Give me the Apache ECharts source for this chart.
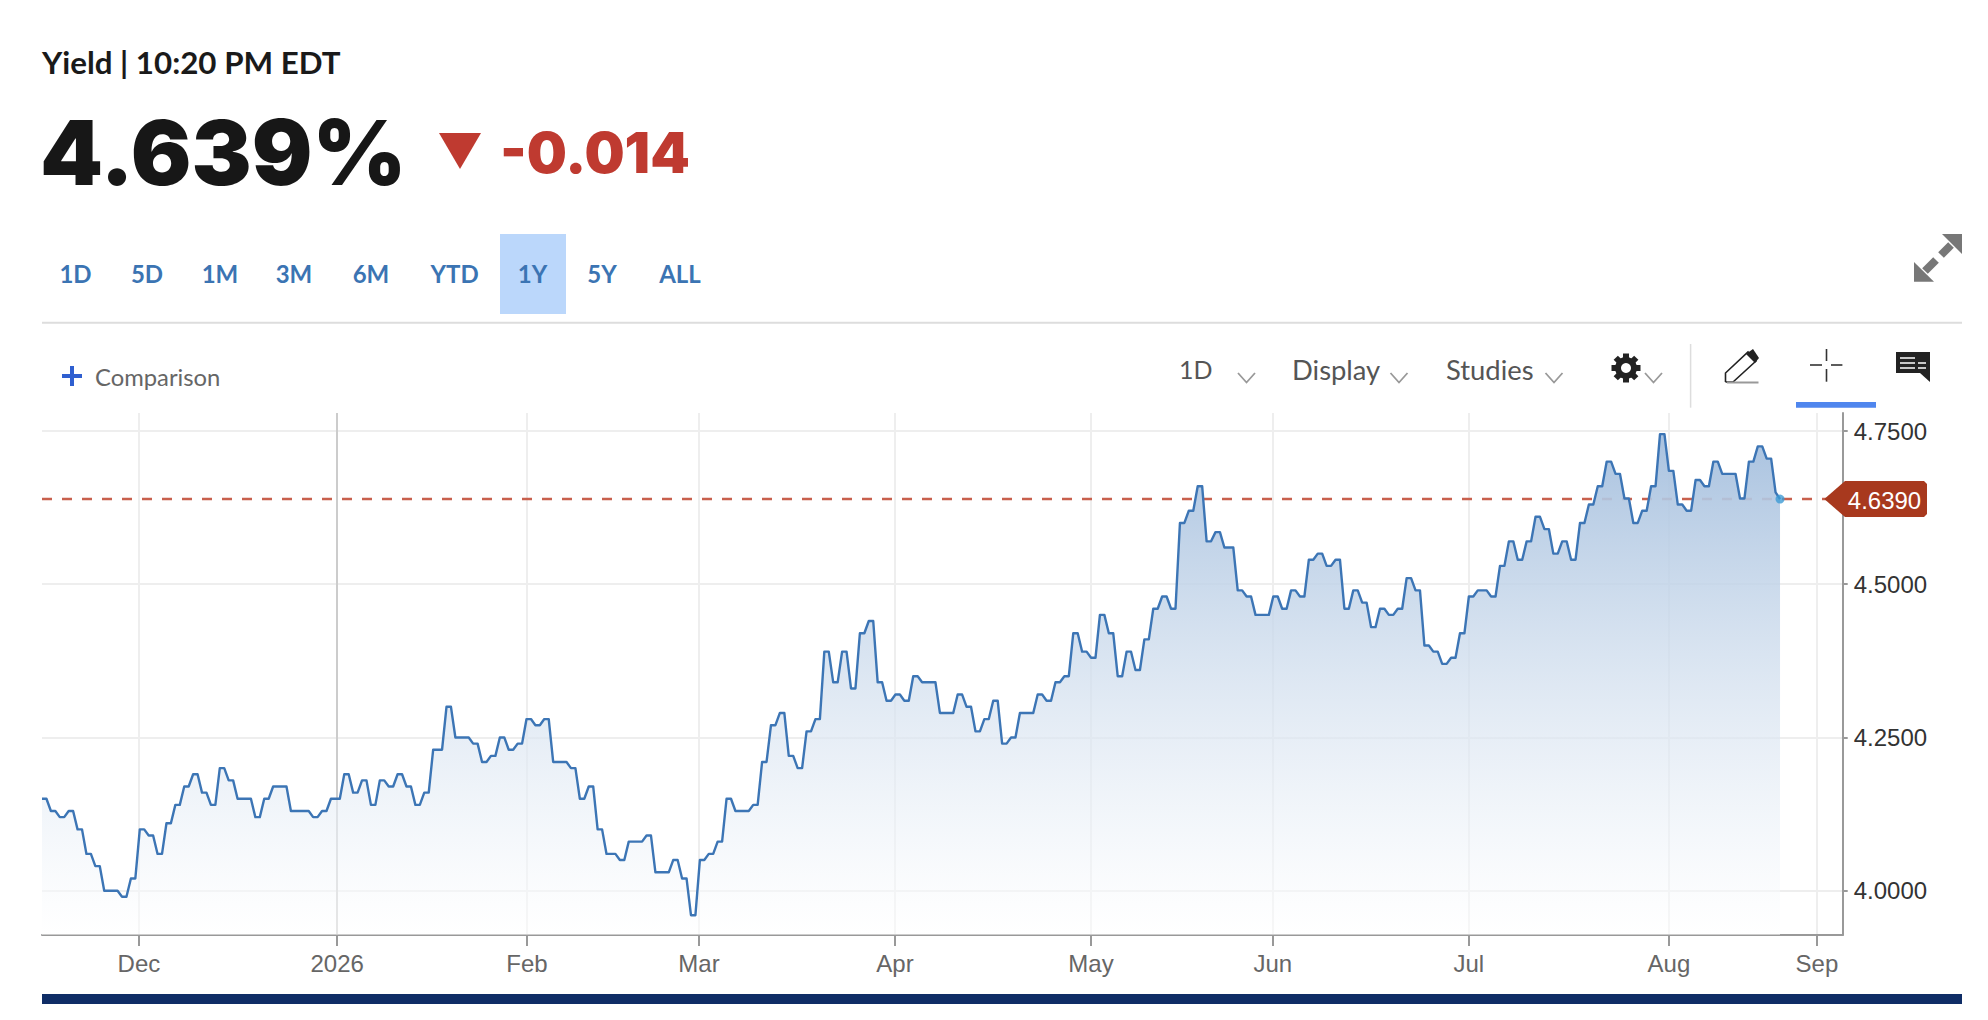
<!DOCTYPE html>
<html>
<head>
<meta charset="utf-8">
<title>Yield</title>
<style>html,body{margin:0;padding:0;background:#fff}#c{width:1988px;height:1020px}</style>
<script src="https://cdn.jsdelivr.net/npm/echarts@6/dist/echarts.min.js"></script>
</head>
<body>
<div id="c"></div>
<script>
// Half-day samples
const yieldsPartA = [4.15,4.15,4.13,4.13,4.12,4.12,4.13,4.13,4.10,4.10,4.06,4.06,4.04,4.04,4.00,4.00,4.00,4.00,3.99,3.99,4.02,4.02,4.10,4.10,4.09,4.09,4.06,4.06,4.11,4.11,4.14,4.14,4.17,4.17,4.19,4.19,4.16,4.16,4.14,4.14,4.20,4.20,4.18,4.18,4.15,4.15,4.15,4.15,4.12,4.12,4.15,4.15,4.17,4.17,4.17,4.17,4.13,4.13,4.13,4.13,4.13,4.12,4.12,4.13,4.13,4.15,4.15,4.15,4.19,4.19,4.16,4.16,4.18,4.18,4.14,4.14,4.18,4.18,4.17,4.17,4.19,4.19,4.17,4.17,4.14,4.14,4.16,4.16,4.23,4.23,4.23,4.30,4.30,4.25,4.25,4.25,4.25,4.24,4.24,4.21,4.21,4.22,4.22];
const yieldsPartB = [4.25,4.25,4.23,4.23,4.24,4.24,4.28,4.28,4.27,4.27,4.28,4.28,4.21,4.21,4.21,4.21,4.20,4.20,4.15,4.15,4.17,4.17,4.10,4.10,4.06,4.06,4.06,4.05,4.05,4.08,4.08,4.08,4.08,4.09,4.09,4.03,4.03,4.03,4.03,4.05,4.05,4.02,4.02,3.96,3.96,4.05,4.05,4.06,4.06,4.08,4.08,4.15,4.15,4.13,4.13,4.13,4.13,4.14,4.14,4.21,4.21,4.27,4.27,4.29,4.29,4.22,4.22,4.20,4.20,4.26,4.26,4.28,4.28];
const yieldsPartC = [4.39,4.39,4.34,4.34,4.39,4.39,4.33,4.33,4.42,4.42,4.44,4.44,4.34,4.34,4.31,4.31,4.32,4.32,4.31,4.31,4.35,4.35,4.34,4.34,4.34,4.34,4.29,4.29,4.29,4.29,4.32,4.32,4.30,4.30,4.26,4.26,4.28,4.28,4.31,4.31,4.24,4.24,4.25,4.25,4.29,4.29,4.29,4.29,4.32,4.32,4.31,4.31,4.34,4.34,4.35,4.35,4.42,4.42,4.39,4.39,4.38,4.38,4.45,4.45,4.42,4.42,4.35,4.35,4.39,4.39,4.36,4.36,4.41,4.41,4.46,4.46,4.48,4.48,4.46,4.46];
const yieldsPartD = [4.60,4.60,4.62,4.62,4.66,4.66,4.57,4.57,4.585,4.585,4.56,4.56,4.56,4.49,4.49,4.48,4.48,4.45,4.45,4.45,4.45,4.48,4.48,4.46,4.46,4.49,4.49,4.48,4.48,4.54,4.54,4.55,4.55,4.53,4.53,4.54,4.54,4.46,4.46,4.49,4.49,4.47,4.47,4.43,4.43,4.46,4.46,4.45,4.45,4.46,4.46,4.51,4.51,4.49,4.49,4.40,4.40,4.39,4.39,4.37,4.37,4.38,4.38,4.42,4.42,4.48,4.48,4.49,4.49,4.49,4.48,4.48];
const yieldsPartE = [4.53,4.53,4.57,4.57,4.54,4.54,4.57,4.57,4.61,4.61,4.59,4.59,4.55,4.55,4.57,4.57,4.54,4.54,4.60,4.60,4.63,4.63,4.66,4.66,4.70,4.70,4.68,4.68,4.64,4.64,4.60,4.60,4.62,4.62,4.66,4.66,4.745,4.745,4.685,4.685,4.63,4.63,4.62,4.62,4.67,4.67,4.66,4.66,4.70,4.70,4.68,4.68,4.68,4.68,4.64,4.64,4.70,4.70,4.725,4.725,4.705,4.705,4.65,4.639];

const yieldSamples = [].concat(yieldsPartA, yieldsPartB, yieldsPartC, yieldsPartD, yieldsPartE);
const lastYield = 4.639;

// Category axis ticks, in half-day sample units
const monthLabels = ['Dec','2026','Feb','Mar','Apr','May','Jun','Jul','Aug','Sep'];
const monthSamples = [21.8,66.4,109.1,147.8,191.9,236,276.9,321,366,399.3];
const yTicks = [4.0,4.25,4.5,4.75];
const rangeButtons = ['1D','5D','1M','3M','6M','YTD','1Y','5Y','ALL'];
const rangeCenters = [75.5,147,220,294,371,454.6,532.6,602,680];

const xMax = 405.1, yMin = 3.9277, yMax = 4.7794;
const lineData = yieldSamples.map((v,i)=>[i,v]);
const lastIdx = yieldSamples.length-1;

const FONT_H = 'Lato, "Open Sans", sans-serif';
const FONT_B = 'Inter, Lato, sans-serif';
const FONT_A = '"Liberation Sans", Arial, sans-serif';
const text = (s,x,y,font,fill,align)=>({type:'text',silent:true,z:50,style:{text:s,x,y,font,fill,align:align||'left',verticalAlign:'middle'}});
const poly = (pts,fill)=>({type:'polygon',silent:true,z:50,shape:{points:pts},style:{fill}});
const seg = (x1,y1,x2,y2,stroke,w)=>({type:'line',silent:true,z:50,shape:{x1,y1,x2,y2},style:{stroke,lineWidth:w}});
const rect = (x,y,width,height,fill)=>({type:'rect',silent:true,z:40,shape:{x,y,width,height},style:{fill}});
const chevron = (x)=>({type:'polyline',silent:true,z:50,shape:{points:[[x,373],[x+8.5,382.5],[x+17,373]]},style:{stroke:'#999',lineWidth:1.8,fill:null}});

const chrome = [
  text('Yield | 10:20 PM EDT',42,62,'700 31.3px '+FONT_H,'#1a1a1a'),
  text('4.639%',40,152,'900 90px '+FONT_B,'#171717'),
  poly([[439,133],[481,133],[460,169]],'#bf3a30'),
  text('-0.014',500,152,'900 56.5px '+FONT_B,'#bf3a30'),
  rect(500,234,66,80,'#bbd7fb'),
  seg(42,322.7,1962,322.7,'#dddddd',2),
  rect(62,374,20,4,'#2f5fd0'),
  rect(70,366,4,20,'#2f5fd0'),
  text('Comparison',95,377,'400 23.8px '+FONT_H,'#666666'),
  text('1D',1179,369,'400 25px '+FONT_H,'#555555'),
  chevron(1238),
  text('Display',1292,369,'400 27.4px '+FONT_H,'#555555'),
  chevron(1390.5),
  text('Studies',1446,369,'400 27.4px '+FONT_H,'#555555'),
  chevron(1545.5),
  {type:'ring',silent:true,z:50,shape:{cx:1626,cy:368,r:11,r0:5},style:{fill:'#222'}},
  chevron(1645),
  seg(1690.6,344,1690.6,407.7,'#dddddd',1.5),
  {type:'polyline',silent:true,z:50,shape:{points:[[1725.5,382],[1725.5,373],[1748,352],[1756,361],[1733,382],[1725.5,382]]},style:{stroke:'#222',lineWidth:1.6,fill:null}},
  poly([[1746,354],[1753,349],[1759,358],[1755,363]],'#222'),
  seg(1727,382.5,1758.5,382.5,'#999',2),
  seg(1826.5,349,1826.5,361,'#333',1.6),
  seg(1826.5,369,1826.5,381.7,'#333',1.6),
  seg(1810,365,1822,365,'#333',1.6),
  seg(1831,365,1842.4,365,'#333',1.6),
  rect(1796,402,80,5.7,'#4f86ee'),
  rect(1896,352,34,21,'#222'),
  poly([[1920,373],[1930,373],[1930,382]],'#222'),
  seg(1900,358,1915,358,'#fff',1.5),seg(1900,363,1915,363,'#fff',1.5),seg(1900,368,1915,368,'#fff',1.5),
  seg(1918,363,1926,363,'#fff',1.5),seg(1918,368,1926,368,'#fff',1.5),
  poly([[1942,234],[1962,234],[1962,254]],'#777'),
  poly([[1914,262],[1914,281.7],[1934,281.7]],'#777'),
  seg(1951,245,1941,255,'#777',8),
  seg(1936,260,1925,271,'#777',8),
  rect(42,994,1920,10,'#0f2d66')
];
rangeButtons.forEach((b,i)=>chrome.push(text(b,rangeCenters[i],273,'700 24px '+FONT_H,'#3b74b3','center')));
// gear teeth
for(let a=0;a<8;a++){
  chrome.push({type:'rect',silent:true,z:50,x:1626,y:368,rotation:a*Math.PI/4,shape:{x:-3,y:-14.5,width:6,height:6},style:{fill:'#222'}});
}

const chart = echarts.init(document.getElementById('c'),null,{renderer:'svg',width:1988,height:1020});
chart.setOption({
  animation:false,
  backgroundColor:'#fff',
  textStyle:{fontFamily:FONT_A},
  grid:{left:42,right:145.3,top:413,bottom:85,containLabel:false},
  xAxis:{
    type:'value',min:0,max:xMax,
    axisLine:{onZero:false,lineStyle:{color:'#999',width:2}},
    axisTick:{customValues:monthSamples,length:11,lineStyle:{color:'#999',width:2}},
    axisLabel:{customValues:monthSamples,margin:16,fontSize:24,fontFamily:FONT_A,
      color:(v)=>monthLabels[monthSamples.indexOf(v)]==='2026'?'#333':'#666',
      formatter:(v)=>monthLabels[monthSamples.indexOf(v)]},
    splitLine:{show:true,lineStyle:{color:['#eeeeee','#cccccc','#eeeeee','#eeeeee','#eeeeee','#eeeeee','#eeeeee','#eeeeee','#eeeeee','#eeeeee'],width:2}}
  },
  yAxis:{
    type:'value',position:'right',min:yMin,max:yMax,
    axisLine:{show:true,onZero:false,lineStyle:{color:'#999',width:2}},
    axisTick:{show:true,customValues:yTicks,length:5,lineStyle:{color:'#999',width:2}},
    axisLabel:{customValues:yTicks,margin:11,fontSize:24,fontFamily:FONT_A,color:'#333',formatter:(v)=>v.toFixed(4)},
    splitLine:{show:true,lineStyle:{color:'#eeeeee',width:2}}
  },
  series:[
    {type:'line',name:'Last',z:1,silent:true,symbol:'none',data:[[0,lastYield],[xMax,lastYield]],
     lineStyle:{color:'#c8604d',width:2.4,type:[10,10]}},
    {type:'line',name:'Yield',z:2,silent:true,symbol:'none',data:lineData,
     lineStyle:{color:'#3c75b5',width:2.4,join:'round'},
     areaStyle:{opacity:1,color:new echarts.graphic.LinearGradient(0,0,0,1,[
       {offset:0,color:'rgba(166,192,222,0.97)'},
       {offset:1,color:'rgba(255,255,255,0.5)'}])}},
    {type:'scatter',name:'Latest',z:3,silent:true,symbol:'circle',symbolSize:9,
     data:[[lastIdx,lastYield]],itemStyle:{color:'#3d9bd4'}}
  ],
  graphic:chrome
});
const tagY = chart.convertToPixel({yAxisIndex:0},lastYield);
chart.setOption({graphic:chrome.concat([
  {type:'polygon',silent:true,z:60,shape:{points:[[1824.3,tagY],[1845,tagY-18],[1924,tagY-18],[1927,tagY-15],[1927,tagY+15],[1924,tagY+18],[1845,tagY+18]]},style:{fill:'#a8391e'}},
  Object.assign(text('4.6390',1884.5,tagY+1,'400 24px '+FONT_A,'#ffffff','center'),{z:70})
])});
</script>
</body>
</html>
